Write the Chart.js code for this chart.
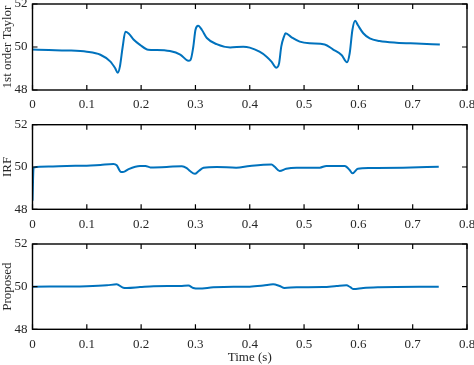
<!DOCTYPE html>
<html>
<head>
<meta charset="utf-8">
<script src="https://cdn.jsdelivr.net/npm/chart.js@4/dist/chart.umd.min.js"></script>
<style>
  html, body { margin: 0; padding: 0; background: #fff; }
  #wrap { position: relative; width: 474px; height: 365px; }
  canvas { position: absolute; left: 0; }
</style>
</head>
<body>
<div id="wrap">
  <canvas id="c1" width="474" height="115" style="top:0px"></canvas>
  <canvas id="c2" width="474" height="120" style="top:115px"></canvas>
  <canvas id="c3" width="474" height="130" style="top:235px"></canvas>
</div>
<script>
// time axis ticks / limits
const xTicks = [0, 0.1, 0.2, 0.3, 0.4, 0.5, 0.6, 0.7, 0.8];
const yTicks = [48, 50, 52];

// 1st order Taylor
const taylorT = [0, 0.03, 0.063, 0.1, 0.125, 0.143, 0.152, 0.157, 0.161, 0.166, 0.171, 0.177, 0.186, 0.198, 0.213, 0.229,
  0.253, 0.272, 0.287, 0.291, 0.296, 0.300, 0.305, 0.312, 0.321, 0.339, 0.364, 0.388, 0.4, 0.418, 0.431, 0.44, 0.449,
  0.454, 0.458, 0.463, 0.466, 0.477, 0.492, 0.510, 0.538, 0.553, 0.569, 0.579, 0.584, 0.589, 0.594, 0.599, 0.609,
  0.621, 0.639, 0.670, 0.707, 0.75];
const taylorF = [49.88, 49.86, 49.84, 49.78, 49.64, 49.33, 49.02, 48.80, 49.10, 50.0, 50.71, 50.63, 50.35, 50.10, 49.87, 49.86,
  49.81, 49.65, 49.36, 49.40, 50.0, 50.79, 50.99, 50.79, 50.42, 50.13, 49.98, 50.01, 49.97, 49.78, 49.55, 49.32, 49.04,
  49.24, 50.02, 50.48, 50.64, 50.45, 50.25, 50.17, 50.12, 49.89, 49.63, 49.29, 49.71, 50.79, 51.22, 51.02, 50.64,
  50.40, 50.28, 50.20, 50.16, 50.12];

// IRF
const irfT = [0, 0.002, 0.03, 0.063, 0.1, 0.125, 0.149, 0.155, 0.163, 0.168, 0.177, 0.198, 0.208, 0.217, 0.247, 0.275,
  0.284, 0.29, 0.299, 0.306, 0.315, 0.339, 0.375, 0.4, 0.44, 0.446, 0.455, 0.467, 0.486, 0.529, 0.541, 0.575, 0.584,
  0.589, 0.599, 0.621, 0.682, 0.748];
const irfF = [48.4, 49.97, 50.02, 50.05, 50.06, 50.1, 50.14, 50.08, 49.76, 49.77, 49.90, 50.05, 50.05, 49.98, 50.0, 50.04,
  49.95, 49.81, 49.68, 49.81, 49.96, 50.0, 49.97, 50.05, 50.12, 50.01, 49.81, 49.92, 49.97, 49.97, 50.05, 50.05, 49.86,
  49.70, 49.92, 49.95, 49.97, 50.01];

// Proposed
const propT = [0, 0.1, 0.137, 0.155, 0.167, 0.174, 0.198, 0.223, 0.272, 0.287, 0.296, 0.306, 0.333, 0.37, 0.4, 0.425,
  0.443, 0.455, 0.464, 0.486, 0.535, 0.56, 0.578, 0.585, 0.591, 0.609, 0.639, 0.748];
const propF = [50.0, 50.02, 50.06, 50.11, 49.95, 49.94, 49.98, 50.02, 50.03, 50.05, 49.94, 49.91, 49.97, 50.0, 50.0, 50.05,
  50.11, 50.03, 49.94, 49.97, 49.98, 50.03, 50.06, 49.98, 49.89, 49.94, 49.97, 50.0];

const lineColor = '#0072BD';
const txtColor = '#262626';
const fontSpec = { family: '"Liberation Serif", "DejaVu Serif", serif', size: 13 };

// box + inward ticks like matlab
const boxPlugin = {
  id: 'box',
  afterDraw(chart) {
    const a = chart.chartArea, ctx = chart.ctx;
    const xs = chart.scales.x, ys = chart.scales.y;
    ctx.save();
    ctx.strokeStyle = '#000';
    ctx.lineWidth = 1.4;
    ctx.strokeRect(a.left, a.top, a.right - a.left, a.bottom - a.top);
    ctx.lineWidth = 1.2;
    ctx.beginPath();
    xTicks.forEach(v => {
      const px = xs.getPixelForValue(v);
      ctx.moveTo(px, a.bottom); ctx.lineTo(px, a.bottom - 5);
      ctx.moveTo(px, a.top); ctx.lineTo(px, a.top + 5);
    });
    yTicks.forEach(v => {
      const py = ys.getPixelForValue(v);
      ctx.moveTo(a.left, py); ctx.lineTo(a.left + 5, py);
      ctx.moveTo(a.right, py); ctx.lineTo(a.right - 5, py);
    });
    ctx.stroke();
    ctx.restore();
  }
};

function makeChart(id, xs, ys, yLabel, pad, xHeight, xTitle) {
  const ctx = document.getElementById(id).getContext('2d');
  return new Chart(ctx, {
    type: 'line',
    data: {
      datasets: [{
        data: xs.map((t, i) => ({ x: t, y: ys[i] })),
        borderColor: lineColor,
        borderWidth: 2,
        pointRadius: 0,
        cubicInterpolationMode: 'monotone',
        fill: false
      }]
    },
    options: {
      responsive: false,
      animation: false,
      events: [],
      layout: { padding: pad },
      plugins: { legend: { display: false }, tooltip: { enabled: false } },
      scales: {
        x: {
          type: 'linear', min: 0, max: 0.8,
          afterBuildTicks: s => { s.ticks = xTicks.map(v => ({ value: v })); },
          afterFit: s => { s.height = xHeight; s.paddingLeft = 0; s.paddingRight = 0; },
          grid: { display: false, drawTicks: false },
          border: { display: false },
          ticks: { padding: 7, color: txtColor, font: fontSpec, maxRotation: 0, autoSkip: false,
            callback: v => String(+v.toFixed(1)) },
          title: { display: !!xTitle, text: xTitle || '', color: txtColor, font: fontSpec, padding: { top: 0, bottom: 0 } }
        },
        y: {
          min: 48, max: 52,
          afterBuildTicks: s => { s.ticks = yTicks.map(v => ({ value: v })); },
          afterFit: s => { s.width = 32.5; s.paddingTop = 0; s.paddingBottom = 0; },
          grid: { display: false, drawTicks: false },
          border: { display: false },
          ticks: { padding: 5, color: txtColor, font: fontSpec },
          title: { display: true, text: yLabel, color: txtColor, font: fontSpec, padding: { top: 0, bottom: 0 } }
        }
      }
    },
    plugins: [boxPlugin]
  });
}

makeChart('c1', taylorT, taylorF, '1st order Taylor', { top: 4, right: 7, left: 0, bottom: 0 }, 25);
makeChart('c2', irfT, irfF, 'IRF', { top: 9.7, right: 7, left: 0, bottom: 0.7 }, 25);
makeChart('c3', propT, propF, 'Proposed', { top: 9, right: 7, left: 0, bottom: 0 }, 35.7, 'Time (s)');
</script>
</body>
</html>
